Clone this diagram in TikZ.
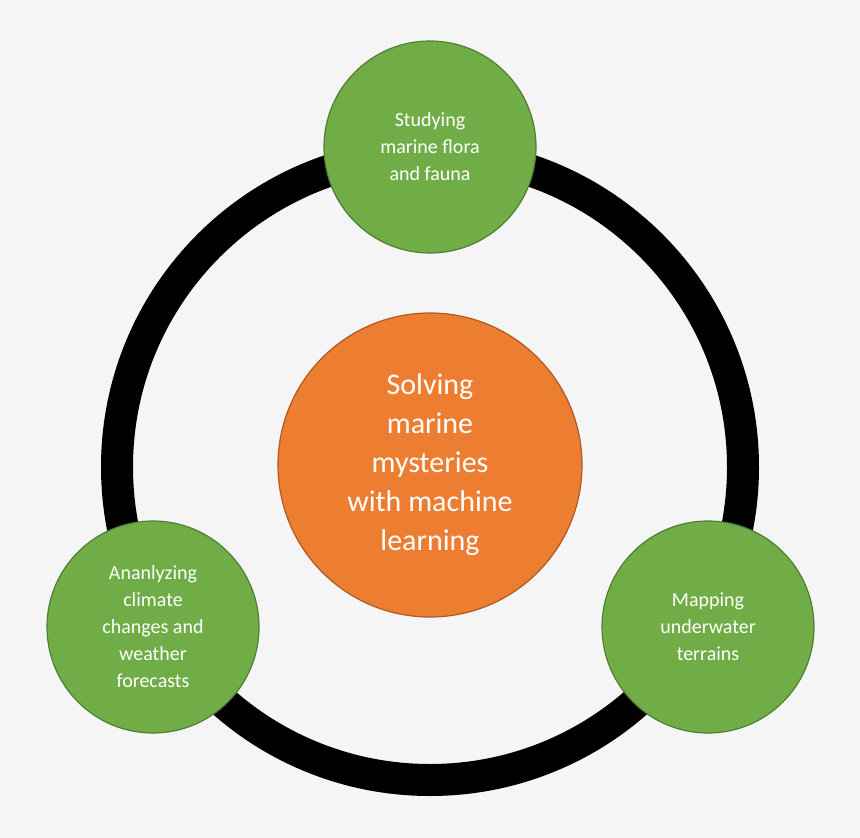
\documentclass[tikz,border=0pt]{standalone}
\usepackage{fontspec}
\setmainfont{Carlito}
\definecolor{gr}{HTML}{70AD47}
\definecolor{grb}{HTML}{507E32}
\definecolor{or}{HTML}{ED7D31}
\definecolor{orb}{HTML}{AE5A21}
\definecolor{bg}{HTML}{F5F5F5}
\begin{document}
\begin{tikzpicture}[x=1pt,y=-1pt,
  sat/.style={circle,fill=gr,draw=grb,line width=1.2pt,minimum size=212pt,inner sep=0pt,text=white,align=center,font=\fontsize{20}{27}\selectfont},
  ctr/.style={circle,fill=or,draw=orb,line width=1.2pt,minimum size=304pt,inner sep=0pt,text=white,align=center,font=\fontsize{30}{39}\selectfont}]
\fill[bg] (0,0) rectangle (860,838);
\useasboundingbox (0,0) rectangle (860,838);
\draw[line width=32pt] (430,467) circle[radius=313];
\node[ctr] (c) at (430,465) {Solving\\marine\\mysteries\\with machine\\learning};
\node[sat] (t) at (430,147) {Studying\\marine flora\\and fauna};
\node[sat] (l) at (153,627) {Ananlyzing\\climate\\changes and\\weather\\forecasts};
\node[sat] (r) at (708,627) {Mapping\\underwater\\terrains};
\end{tikzpicture}
\end{document}
